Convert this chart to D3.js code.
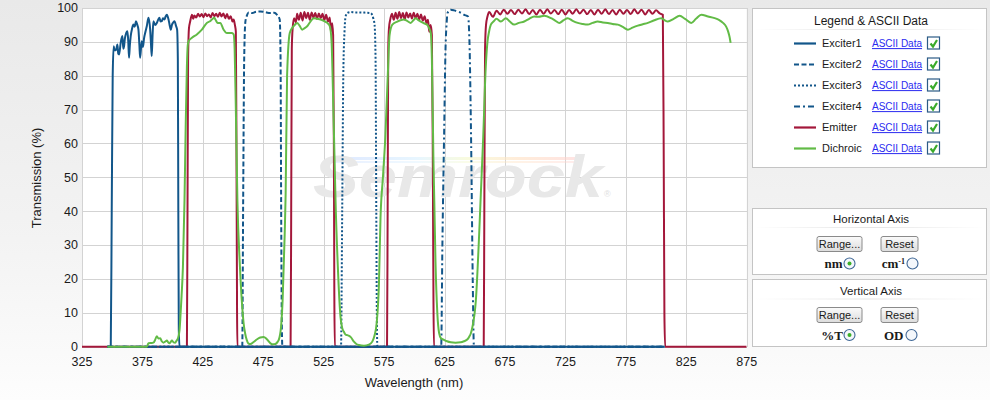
<!DOCTYPE html>
<html><head><meta charset="utf-8">
<script src="https://cdn.jsdelivr.net/npm/d3@7"></script>
<style>body{margin:0;background:#f4f4f4;}svg{display:block;font-family:"Liberation Sans",Arial,sans-serif;}</style>
</head><body>
<svg id="c" width="990" height="400"></svg>
<script>
// ---------- data (wavelength nm, transmission %) ----------
const wavelengthTicks = [325,375,425,475,525,575,625,675,725,775,825,875];
const transmissionTicks = [0,10,20,30,40,50,60,70,80,90,100];
const seriesNames = ["Exciter1","Exciter2","Exciter3","Exciter4","Emitter","Dichroic"];

const exciter1 = [[346,0],[348.8,0],[349.6,40],[350.4,80],[351.2,88.7],[352,87.5],[353.2,87.7],[354.3,89.2],[355,86.5],[355.7,86.3],[357,89.7],[358.4,91.7],[359.2,88],[359.8,88.7],[360.5,91],[361.2,92.2],[362.6,93.1],[363.3,90],[363.9,85.3],[364.6,89],[365.3,91.7],[366.5,94],[367.5,95.1],[368.6,94.5],[369.7,96.1],[370.8,95],[371.7,93.6],[372.5,89],[373.1,85.3],[374.4,90.2],[375.4,88.5],[376.4,91.2],[377.5,93],[378.6,94.6],[380,97.1],[381.4,93.6],[382,90],[382.7,85.8],[383.4,92],[384.1,96.1],[385.5,95],[386.9,95.6],[388,96.5],[389.1,97.1],[390,96],[391,96.1],[392,97],[393.2,96.6],[394.2,97.5],[395.2,98],[396.6,96.6],[397.5,95],[398.5,93.6],[399.4,95],[400.2,95.6],[401.5,96.1],[402.9,94.6],[403.7,93.6],[404.3,85],[404.7,40],[405.1,5],[405.7,0],[807,0]];

const exciter2 = [[346,0],[457.6,0],[458.3,40],[459.2,85],[460.2,96],[461.5,97.8],[463,98.7],[466,98.5],[469,98.9],[472.6,99],[476,98.8],[480.9,98.5],[484,98.6],[486.4,98],[488.6,96.6],[489.3,85],[489.8,40],[490.4,5],[490.8,0],[807,0]];

const exciter3 = [[346,0],[539.3,0],[540.3,40],[541.2,80],[542.2,93],[543.1,97.5],[544.5,98.5],[547.2,98.8],[551,98.7],[555.5,98.7],[560,98.6],[563.8,98.5],[566,97],[567.1,95],[567.9,85],[568.5,40],[569,8],[569.4,0],[807,0]];

const exciter4 = [[346,0],[622.2,0],[623.2,30],[624.6,62],[625.8,88],[626.8,96],[627.4,98.5],[630.1,99.5],[633,99.3],[635.6,99],[638.5,98.6],[641.2,98],[644.4,97.5],[645.6,90],[647,60],[648.3,20],[649.3,0],[807,0]];

const emitter = [[325,0],[411.8,0],[412.3,40],[412.8,85],[413.5,94],[414.5,96],[416,98],[417,96.8],[418,97.8],[419.5,97.2],[421,98.3],[422.5,97.5],[424,98.2],[425.5,97.3],[427,98.4],[428.5,97.6],[430,98.1],[431.5,97.2],[433,98.5],[434.5,97.6],[436,98.3],[437.5,97.4],[439,98.6],[440.5,97.5],[442,98.4],[443.5,97],[445,98.2],[446.5,96.8],[448,97.6],[449.5,96],[450.5,96.6],[451.5,95],[452.3,93],[452.8,60],[453.3,10],[453.6,0],
[497.6,0],[498.1,40],[498.6,88],[499.3,94],[500.5,97],[502,95.8],[503,98.3],[504.5,96.5],[506,98.6],[507.5,96.3],[509,98.8],[510.5,97],[512,98.6],[513.5,96.5],[515,98.7],[516.5,97.2],[518,98.5],[519.5,96.8],[521,98.4],[522.5,97],[524,98.3],[525.5,96.4],[527,98],[528.5,96],[530,97.2],[531,93],[532,95.5],[532.8,92],[533.4,60],[533.8,15],[534.2,0],
[577.4,0],[577.9,40],[578.4,88],[579,94],[580,96.5],[581.5,98.3],[583,96.5],[584.5,98.6],[586,96.8],[587.5,98.8],[589,97],[590.5,98.5],[592,96.6],[593.5,98.7],[595,97.2],[596.5,98.4],[598,96.9],[599.5,98.6],[601,97],[602.5,98.3],[604,96.6],[605.5,98.1],[607,96.2],[608.5,97.6],[610,95.5],[611.3,96.5],[612.3,93],[613.5,95],[614.5,92],[615.2,60],[615.8,15],[616.2,0],
[657.4,0],[657.9,40],[658.5,88],[659.3,95],[660.5,97.5],[662,98.8],[665,97.4],[668,99.2],[671,98.1],[674,99.5],[677,98.3],[680,99.4],[683,98.2],[686,99.5],[689,98.4],[692,99.6],[695,98.2],[698,99.4],[701,98.1],[704,99.5],[707,98.3],[710,99.6],[713,98.4],[716,99.4],[719,98.2],[722,99.5],[725,98.1],[728,99.4],[731,98.3],[734,99.6],[737,98.4],[740,99.5],[743,98.2],[746,99.4],[749,98.1],[752,99.5],[755,98.3],[758,99.6],[761,98.2],[764,99.4],[767,98.1],[770,99.5],[773,98.3],[776,99.4],[779,98.2],[782,99.6],[785,98.4],[788,99.5],[791,98.1],[794,99.4],[797,98.3],[800,99.3],[803,98.4],[805.6,98],[806.3,60],[806.9,10],[807.5,0],[875,0]];

const dichroic = [[346,0],[378.6,0],[380,1],[382,1.1],[384.1,1.2],[385.5,2],[386.9,3.1],[388.3,2.4],[389.7,2.5],[391,1.6],[392.4,1.2],[393.8,1.5],[395.2,1.8],[396.3,1.3],[397.4,1],[398.4,1.4],[399.4,1.8],[400.8,1.3],[402.1,1.2],[403.3,1.8],[404.4,2.5],[405.7,4.9],[406.3,8],[407.4,15],[408.5,23.5],[409.8,43],[410.8,65],[411.8,82.8],[412.5,89],[413.2,90.2],[416,91.2],[420,92.2],[424.2,93.6],[428.3,95.6],[430.5,96],[432.5,96.6],[434.4,97.1],[436,96.2],[437.2,95.6],[439.4,95.6],[442.2,93.6],[444.9,92.6],[449.1,92.6],[450.5,92.2],[451.3,88],[452.3,70],[453.6,43],[455.5,25],[457.2,13.7],[458.7,7],[460,3.9],[461.3,2],[462.6,1],[464.3,0.8],[467,1.4],[469.9,2.2],[472.5,2.7],[475.3,2.9],[478,2.2],[481,1],[483,0.7],[485,0.8],[487,1.5],[487.8,2],[489.7,5.9],[491,13.7],[492.7,33],[493.5,45],[494.7,80],[496.9,92.6],[498.9,94.1],[501,95],[503,95.6],[505,94.8],[507.2,93.6],[509,94],[511.3,94.6],[514,96],[516.8,97],[519.5,96.8],[522.3,96.6],[525,96.2],[527.9,95.6],[530.1,94.6],[531.5,90],[533,70],[534,55],[534.8,43],[536.7,23.5],[538.9,8.8],[540.3,5.5],[541.7,4.4],[543,3.6],[544.5,3.4],[546,3.2],[547.2,2.9],[550,1.5],[552,0.8],[554.1,0.5],[558.3,0.3],[562.4,0.6],[565.2,1.5],[567.1,3.4],[568.8,6.9],[570.7,18.6],[572,38],[574,50],[576,62],[578,80],[579.5,92],[581.8,95.1],[585.9,96],[588.5,96.4],[591.5,96.6],[594,96.2],[597,95.6],[599,96.3],[601.1,97],[603,96.5],[605.3,96],[608,95.5],[610.8,95],[612.3,94],[613.6,92.6],[614.5,85],[615.8,55],[616.5,43],[617.5,25],[619,10],[620.5,4],[622,2.5],[624.6,2],[627,1.6],[630.1,1.3],[634,1.2],[638.4,1.3],[641,1.6],[644,2.2],[645.5,3],[646.7,3.9],[648.1,5.9],[650.9,13.7],[653.6,33],[655,45],[657,62],[659,82],[660.5,90],[661.8,93],[663.3,95.1],[665.5,96],[668,96.8],[671.6,96],[675.7,97],[679,96],[682.6,95.1],[686.5,95.6],[690.9,96],[695,96.8],[699.2,97.5],[703,97.4],[707.5,97.7],[713.1,97],[716.5,96.3],[720,95.6],[723.5,96.4],[726.9,97],[731,96.2],[735.2,95.6],[739,95.3],[743.5,95.1],[747.5,95.6],[751.8,96],[756,95.7],[760.1,95.6],[764,95.3],[768.4,95.1],[772.5,94.4],[776.7,93.6],[780.5,94.2],[784.9,94.8],[789,95.2],[793.2,95.6],[798,96.3],[804.3,97],[807,96.4],[809.8,96],[814.5,96.8],[819.5,97.7],[824,96.8],[829.1,95.6],[833,96.8],[837.4,98],[843,97.5],[848.5,97],[852,96.5],[855.4,95.6],[858,94.5],[859.6,93.1],[860.8,91.5],[861.7,89.7]];

// ---------- styles ----------
const BLUE = "#12568a", RED = "#a3173a", GREEN = "#62bb46";
const styles = {
  Exciter1:{data:exciter1,color:BLUE,dash:null},
  Exciter2:{data:exciter2,color:BLUE,dash:"5,2.5"},
  Exciter3:{data:exciter3,color:BLUE,dash:"2,2"},
  Exciter4:{data:exciter4,color:BLUE,dash:"6,3,2,3"},
  Emitter:{data:emitter,color:RED,dash:null},
  Dichroic:{data:dichroic,color:GREEN,dash:null}
};

const svg = d3.select("#c");
const defs = svg.append("defs");
const bg = defs.append("linearGradient").attr("id","bg").attr("x1",0).attr("y1",0).attr("x2",0).attr("y2",1);
bg.append("stop").attr("offset","0%").attr("stop-color","#e9e9e9");
bg.append("stop").attr("offset","60%").attr("stop-color","#f3f3f3");
bg.append("stop").attr("offset","100%").attr("stop-color","#fdfdfd");
svg.append("rect").attr("width",990).attr("height",400).attr("fill","url(#bg)");

const pL=82, pR=746.7, pT=8, pB=346.7;
const x = d3.scaleLinear().domain([325,875]).range([pL,pR]);
const y = d3.scaleLinear().domain([0,100]).range([pB,pT]);

svg.append("rect").attr("x",pL).attr("y",pT).attr("width",pR-pL).attr("height",pB-pT).attr("fill","#fff");

// grid
const grid = svg.append("g").attr("stroke","#d3d3d3").attr("stroke-width",1).attr("shape-rendering","crispEdges");
grid.selectAll(".v").data(wavelengthTicks).join("line")
  .attr("x1",d=>Math.round(x(d))+0.5).attr("x2",d=>Math.round(x(d))+0.5).attr("y1",pT).attr("y2",pB);
grid.selectAll(".h").data(transmissionTicks).join("line")
  .attr("x1",pL).attr("x2",pR).attr("y1",d=>Math.round(y(d))+0.5).attr("y2",d=>Math.round(y(d))+0.5);

// watermark
const rb = defs.append("linearGradient").attr("id","rb");
[["0%","#c8d8ff"],["35%","#d8f0ff"],["55%","#f4f8c8"],["75%","#ffe0c0"],["100%","#ffd0d0"]].forEach(s=>rb.append("stop").attr("offset",s[0]).attr("stop-color",s[1]));
svg.append("rect").attr("x",330).attr("y",157).attr("width",250).attr("height",3).attr("fill","url(#rb)").attr("opacity",0.6);
svg.append("rect").attr("x",330).attr("y",161).attr("width",250).attr("height",2).attr("fill","url(#rb)").attr("opacity",0.4);
svg.append("text").attr("x",313).attr("y",197).attr("font-size",60).attr("font-weight","bold").attr("font-style","italic")
  .attr("fill","#e8e8e8").attr("textLength",290).attr("lengthAdjust","spacingAndGlyphs").text("Semrock");
svg.append("text").attr("x",604).attr("y",197).attr("font-size",9).attr("fill","#e0e0e0").text("®");

// curves
defs.append("clipPath").attr("id","clip").append("rect").attr("x",pL).attr("y",pT-2).attr("width",pR-pL).attr("height",pB-pT+4);
const line = d3.line().x(d=>x(d[0])).y(d=>y(d[1])).curve(d3.curveMonotoneX);
const order = ["Emitter","Exciter1","Exciter2","Exciter3","Exciter4","Dichroic"];
const curves = svg.append("g").attr("clip-path","url(#clip)");
order.forEach(n=>{
  const s = styles[n];
  curves.append("path").datum(s.data).attr("d",line).attr("fill","none").attr("stroke",s.color)
    .attr("stroke-width",2).attr("stroke-linejoin","round").attr("stroke-dasharray",s.dash);
});

// axes labels
const txt = "#1a1a1a";
svg.append("g").selectAll("text").data(transmissionTicks).join("text")
  .attr("x",78).attr("y",d=>y(d)).attr("dy","0.35em").attr("text-anchor","end")
  .attr("font-size",12.5).attr("fill",txt).text(d=>d);
svg.append("g").selectAll("text").data(wavelengthTicks).join("text")
  .attr("x",d=>x(d)).attr("y",365.5).attr("text-anchor","middle")
  .attr("font-size",12.5).attr("fill",txt).text(d=>d);
svg.append("text").attr("x",414).attr("y",387).attr("text-anchor","middle").attr("font-size",13).attr("fill",txt).text("Wavelength (nm)");
svg.append("text").attr("transform","translate(41,178) rotate(-90)").attr("text-anchor","middle").attr("font-size",13).attr("fill",txt).text("Transmission (%)");

// ---------- side panels ----------
const sg=defs.append("linearGradient").attr("id","sepg");
sg.append("stop").attr("offset","0%").attr("stop-color","#fff");
sg.append("stop").attr("offset","50%").attr("stop-color","#e4e4e4");
sg.append("stop").attr("offset","100%").attr("stop-color","#fff");
function panel(yy,h){
  svg.append("rect").attr("x",752.5).attr("y",yy+0.5).attr("width",234).attr("height",h).attr("fill","#fff").attr("stroke","#c4c4c4");
}
function sep(yy){
  svg.append("rect").attr("x",754).attr("y",yy).attr("width",231).attr("height",1).attr("fill","url(#sepg)");
}
panel(8,159);
svg.append("text").attr("x",871).attr("y",25).attr("text-anchor","middle").attr("font-size",12).attr("fill",txt).text("Legend & ASCII Data");
sep(29);
const rowY = [43.5,64.5,85.5,106.5,127.5,148.5];
seriesNames.forEach((n,i)=>{
  const s = styles[n], cy = rowY[i];
  svg.append("line").attr("x1",794).attr("x2",816).attr("y1",cy).attr("y2",cy).attr("stroke",s.color).attr("stroke-width",2.2).attr("stroke-dasharray",s.dash);
  svg.append("text").attr("x",822).attr("y",cy).attr("dy","0.36em").attr("font-size",11).attr("fill",txt).text(n);
  svg.append("text").attr("x",872).attr("y",cy).attr("dy","0.36em").attr("font-size",10).attr("fill","#2a2af0").attr("text-decoration","underline").text("ASCII Data");
  svg.append("rect").attr("x",927.5).attr("y",cy-6.5).attr("width",12).attr("height",12).attr("fill","#fff").attr("stroke","#2c5b86").attr("stroke-width",1.2);
  svg.append("path").attr("d",`M930.5,${cy} L933,${cy+3} L937,${cy-3.5}`).attr("fill","none").attr("stroke","#3aaa2a").attr("stroke-width",2.2);
});

const bgr = defs.append("linearGradient").attr("id","btn").attr("x1",0).attr("y1",0).attr("x2",0).attr("y2",1);
bgr.append("stop").attr("offset","0%").attr("stop-color","#fbfbfb");
bgr.append("stop").attr("offset","100%").attr("stop-color","#dcdcdc");
function button(bx,by,w,label){
  svg.append("rect").attr("x",bx+0.5).attr("y",by+0.5).attr("width",w).attr("height",15).attr("rx",2).attr("fill","url(#btn)").attr("stroke","#8a8a8a");
  svg.append("text").attr("x",bx+w/2+0.5).attr("y",by+8).attr("dy","0.36em").attr("text-anchor","middle").attr("font-size",11).attr("fill",txt).text(label);
}
function radio(cx,cy,on){
  svg.append("circle").attr("cx",cx).attr("cy",cy).attr("r",5.5).attr("fill","#f4f7fb").attr("stroke","#3f6796").attr("stroke-width",1.1);
  if(on) svg.append("circle").attr("cx",cx).attr("cy",cy).attr("r",2).attr("fill","#3ab02a");
}
function radioLabel(xEnd,cy,parts){
  const t = svg.append("text").attr("x",xEnd).attr("y",cy).attr("dy","0.36em").attr("text-anchor","end")
    .attr("font-family","'Liberation Serif','Times New Roman',serif").attr("font-weight","bold").attr("font-size",13).attr("fill",txt);
  parts.forEach(p=>{ const ts=t.append("tspan").text(p.t); if(p.sup){ts.attr("font-size",8).attr("dy","-0.5em");} });
}
panel(208,66);
svg.append("text").attr("x",871).attr("y",223).attr("text-anchor","middle").attr("font-size",11.5).attr("fill",txt).text("Horizontal Axis");
sep(227);
button(816.5,236,45,"Range...");
button(880.5,236,37,"Reset");
radioLabel(842.5,263.5,[{t:"nm"}]); radio(849.5,263.5,true);
radioLabel(905,263.5,[{t:"cm"},{t:"-1",sup:true}]); radio(912.5,263.5,false);

panel(279,67);
svg.append("text").attr("x",871).attr("y",294.5).attr("text-anchor","middle").attr("font-size",11.5).attr("fill",txt).text("Vertical  Axis");
sep(298.5);
button(816.5,307,45,"Range...");
button(880.5,307,37,"Reset");
radioLabel(843,335,[{t:"%T"}]); radio(849.5,335,true);
radioLabel(903.5,335,[{t:"OD"}]); radio(911.5,335,false);
</script>
</body></html>
